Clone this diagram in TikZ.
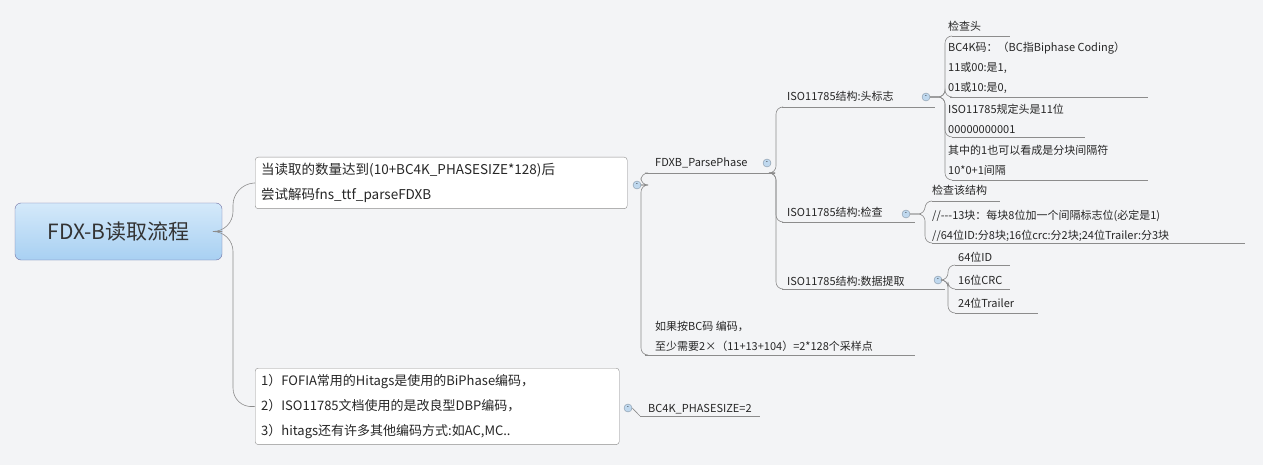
\documentclass[tikz,border=0pt]{standalone}
\usepackage{fontspec}
\setmainfont{Noto Sans CJK SC}
\definecolor{bg}{HTML}{F3F4F6}
\definecolor{ln}{HTML}{8C8C8C}
\definecolor{rootA}{HTML}{D4E9FA}
\definecolor{rootB}{HTML}{A8D0F2}
\definecolor{circ}{HTML}{BFD8EE}
\begin{document}
\begin{tikzpicture}[x=1pt,y=-1pt,
  lf/.style={anchor=base west,inner sep=0pt,font=\fontsize{11}{20}\selectfont,align=left,text=black!85},
  bx/.style={draw=ln,rounded corners=3pt,fill=white,anchor=north west,inner sep=6pt,font=\fontsize{13.5}{25}\selectfont,align=left,text=black!85},
  cn/.style={draw=ln,line width=0.6pt,rounded corners=7pt},
  rc/.style={draw=ln,line width=0.6pt,rounded corners=20pt},
  ul/.style={draw=ln,line width=0.6pt},
  cc/.style={circle,draw=circ!70!black,fill=circ,inner sep=0pt,minimum size=8pt,font=\fontsize{6}{6}\selectfont}]
\fill[bg] (0,0) rectangle (1263,465);
\useasboundingbox (0,0) rectangle (1263,465);
% root
\node[draw=ln!80!blue,rounded corners=6pt,top color=rootA,bottom color=rootB,minimum width=207pt,minimum height=57pt,font=\fontsize{21}{21}\selectfont,text=black!80] (root) at (118.5,231.5) {FDX-B读取流程};
\node[bx,text width=360pt] (b1) at (255,157) {当读取的数量达到(10+BC4K\_PHASESIZE*128)后\\尝试解码fns\_ttf\_parseFDXB};
\node[bx,text width=352pt,font=\fontsize{13}{25}\selectfont] (b2) at (255,368) {1）FOFIA常用的Hitags是使用的BiPhase编码，\\2）ISO11785文档使用的是改良型DBP编码，\\3）hitags还有许多其他编码方式:如AC,MC..};
\coordinate (rr) at (root.east);
\draw[rc] (rr) -- (233,231.5) -- (233,185) -- (b1.west);
\draw[rc] (rr) -- (233,231.5) -- (233,408) -- (b2.west);
\node[cc] (c1) at (637,185) {-};
\node[cc] (c2) at (628,408) {-};
% level 2
\node[lf] (fp) at (655,167) {FDXB\_ParsePhase};
\node[lf] (bc) at (648,412) {BC4K\_PHASESIZE=2};
\node[lf] (rb) at (655,350) {如果按BC码 编码，\\至少需要2×（11+13+104）=2*128个采样点};
\coordinate (fpL) at (645,173); \coordinate (fpR) at (775,173);
\coordinate (rbL) at (645,355); \coordinate (rbR) at (915,355);
\coordinate (bcL) at (640,416); \coordinate (bcR) at (760,416);
\draw[ul] (fpL) -- (fpR); \draw[ul] (rbL) -- (rbR); \draw[ul] (bcL) -- (bcR);
\draw[cn] (c1.east) -- (641,185) -- (641,173) -- (fpL);
\draw[cn] (c1.east) -- (641,185) -- (641,355) -- (rbL);
\draw[cn] (c2.east) -- (bcL);
\node[cc] (c3) at (767,163) {-};
% level 3
\node[lf] (h) at (787,101) {ISO11785结构:头标志};
\node[lf] (k) at (787,217) {ISO11785结构:检查};
\node[lf] (d) at (787,285) {ISO11785结构:数据提取};
\coordinate (hL) at (782,107); \coordinate (hR) at (935,107);
\coordinate (kL) at (782,222); \coordinate (kR) at (915,222);
\coordinate (dL) at (782,289); \coordinate (dR) at (945,289);
\draw[ul] (hL)--(hR); \draw[ul] (kL)--(kR); \draw[ul] (dL)--(dR);
\foreach \t in {hL,kL,dL}{\draw[cn] (fpR) -- (776,173) |- (\t);}
\node[cc] (c4) at (926,97) {-};
\node[cc] (c5) at (906,214) {-};
\node[cc] (c6) at (938,280) {-};
% children of head
\node[lf] (h1) at (948,31) {检查头};
\node[lf] (h2) at (948,92) {BC4K码：（BC指Biphase Coding）\\11或00:是1,\\01或10:是0,};
\node[lf] (h3) at (948,134) {ISO11785规定头是11位\\00000000001};
\node[lf] (h4) at (948,175) {其中的1也可以看成是分块间隔符\\10*0+1间隔};
\coordinate (h1L) at (952,36); \coordinate (h1R) at (1010,36);
\coordinate (h2L) at (950,97); \coordinate (h2R) at (1148,97);
\coordinate (h3L) at (952,137); \coordinate (h3R) at (1085,137);
\coordinate (h4L) at (952,180); \coordinate (h4R) at (1148,180);
\foreach \t in {h1,h2,h3,h4}{\draw[ul] (\t L)--(\t R); \draw[cn] (c4.east) -- (945,97) |- (\t L);}
% children of check
\node[lf] (k1) at (932,195) {检查该结构};
\node[lf] (k2) at (932,239) {//{-}{-}{-}13块：每块8位加一个间隔标志位(必定是1)\\//64位ID:分8块;16位crc:分2块;24位Trailer:分3块};
\coordinate (k1L) at (932,201); \coordinate (k1R) at (1000,201);
\coordinate (k2L) at (932,243); \coordinate (k2R) at (1245,243);
\foreach \t in {k1,k2}{\draw[ul] (\t L)--(\t R); \draw[cn] (c5.east) -- (925,214) |- (\t L);}
% children of data
\node[lf] (d1) at (958,261) {64位ID};
\node[lf] (d2) at (958,284) {16位CRC};
\node[lf] (d3) at (958,307) {24位Trailer};
\coordinate (d1L) at (955,265); \coordinate (d1R) at (1010,265);
\coordinate (d2L) at (955,289); \coordinate (d2R) at (1010,289);
\coordinate (d3L) at (955,313); \coordinate (d3R) at (1038,313);
\foreach \t in {d1,d2,d3}{\draw[ul] (\t L)--(\t R); \draw[cn] (c6.east) -- (948,280) |- (\t L);}
\end{tikzpicture}
\end{document}
